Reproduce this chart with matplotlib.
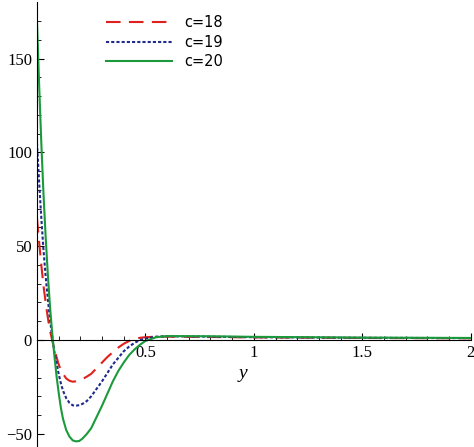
import matplotlib.pyplot as plt
import numpy as np

# values
y_pts = [0.0, 0.01, 0.02, 0.03, 0.04, 0.05, 0.06, 0.07, 0.08, 0.09, 0.10, 0.11, 0.12, 0.135, 0.15, 0.165, 0.18, 0.195, 0.21, 0.23, 0.25, 0.275, 0.30, 0.325, 0.35, 0.375, 0.40, 0.425, 0.45, 0.475, 0.50, 0.55, 0.6, 0.8, 1.0, 1.5, 2.0]
c18 = [65, 52, 40, 29, 20, 12, 5, 0, -5, -9, -13, -16, -18, -20.5, -21.7, -22.2, -22, -21.5, -20.8, -19.5, -18, -15, -12, -9, -6.5, -4, -2, -0.5, 0.6, 1.2, 1.5, 1.8, 1.8, 1.6, 1.4, 1.1, 0.9]
c19 = [105, 84, 65, 48, 34, 22, 11, 2, -6, -12, -18, -23, -27, -31, -33.5, -34.8, -35, -34.7, -34, -32.5, -30, -26, -22, -17.5, -13, -9.5, -6, -3.5, -1.5, 0, 0.8, 1.8, 2.0, 1.8, 1.5, 1.2, 1.0]
c20 = [170, 136, 105, 78, 55, 35, 18, 4, -8, -19, -28, -36, -42, -48, -51.5, -53.5, -54, -53.8, -52.5, -50, -47, -41, -35, -28.5, -22, -16.5, -12, -8, -5, -2.5, -0.5, 1.5, 2.1, 2.0, 1.7, 1.3, 1.1]

fig = plt.figure(figsize=(4.74, 4.47), dpi=100)
ax = fig.add_axes([0.078, 0.0, 0.915, 0.995])

ax.plot(y_pts, c18, color='#e0201b', ls=(0, (7, 4)), lw=1.5, label='c=18')
ax.plot(y_pts, c19, color='#1f2a8c', ls=(0, (1.5, 1)), lw=1.5, label='c=19')
ax.plot(y_pts, c20, color='#1a9a3a', lw=1.5, label='c=20')

ax.set_xlim(0, 2.0)
ax.set_ylim(-57, 180)
ax.spines['top'].set_visible(False)
ax.spines['right'].set_visible(False)
ax.spines['bottom'].set_position(('data', 0))
ax.spines['left'].set_position(('data', 0))
ax.set_xticks([0.5, 1, 1.5, 2])
ax.set_xticklabels(['0.5', '1', '1.5', '2'])
ax.set_xticks(np.arange(0.1, 2.0, 0.1), minor=True)
ax.set_yticks([-50, 0, 50, 100, 150])
ax.set_yticks(np.arange(-50, 180, 10), minor=True)
ax.tick_params(labelsize=12, direction='in', length=5, labelfontfamily='Liberation Serif')
ax.tick_params(which='minor', direction='in', length=3)
ax.text(0.95, -18, 'y', fontsize=14, style='italic', family='Liberation Serif', ha='center', va='center')

ax.legend(loc='upper left', bbox_to_anchor=(0.13, 1.0), frameon=False, fontsize=10.5,
          handlelength=4.5, labelspacing=0.3)
fig.savefig('out.png')
